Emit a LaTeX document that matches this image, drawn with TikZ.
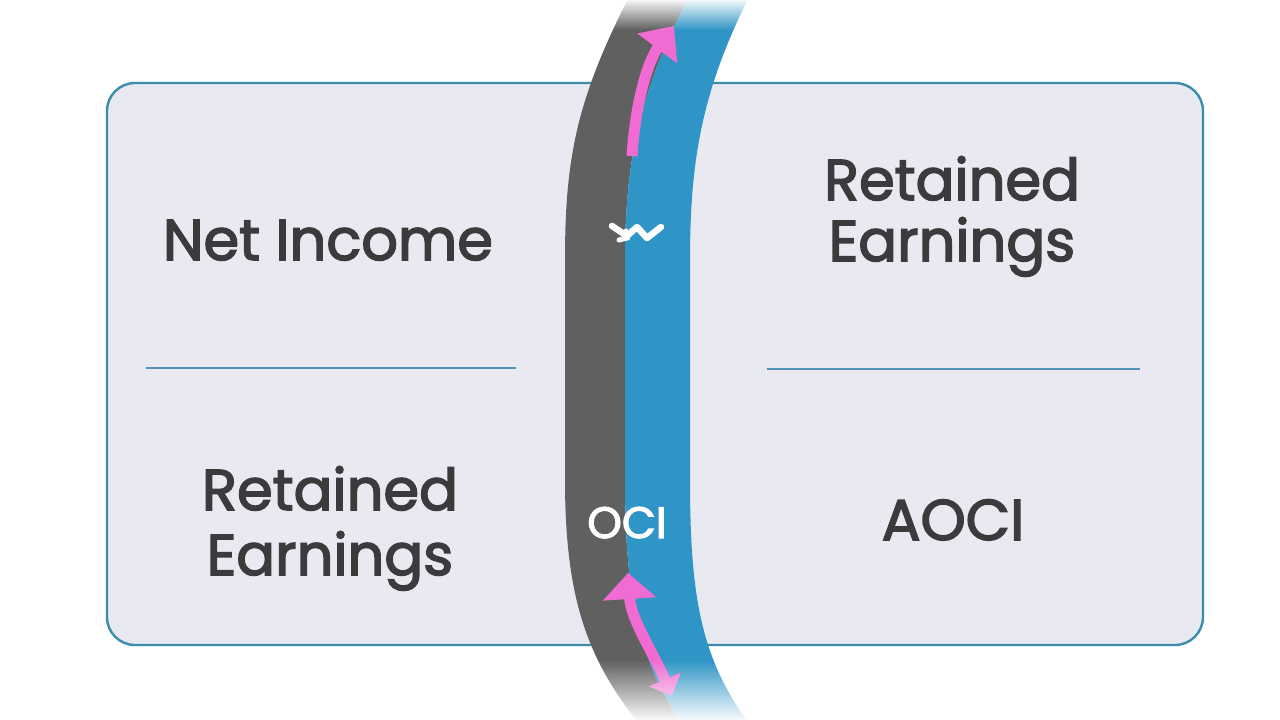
\documentclass[tikz,border=0pt]{standalone}
\usepackage{fontspec}
\setmainfont{Poppins}
\newfontfamily\medfont{Poppins}[FakeBold=2.6]
\usetikzlibrary{arrows.meta,fadings}
\definecolor{boxfill}{HTML}{E9EAF1}
\definecolor{boxline}{HTML}{3C8CAB}
\definecolor{divline}{HTML}{5393B8}
\definecolor{bandgray}{HTML}{606060}
\definecolor{bandblue}{HTML}{2F95C6}
\definecolor{arrowpink}{HTML}{F06CD2}
\definecolor{txt}{HTML}{3A3B3D}
\tikzset{
  lbl/.style={font=\medfont\fontsize{57.5}{62}\selectfont, text=txt, anchor=base, inner sep=0pt},
  ocilbl/.style={font=\medfont\fontsize{44}{48}\selectfont, text=white, anchor=base, inner sep=0pt},
  divider/.style={draw=divline, line width=1.8pt},
  pinkarrow/.style={draw=arrowpink, line width=11pt},
}
\begin{document}
\begin{tikzpicture}[x=1pt,y=-1pt]
\useasboundingbox (0,0) rectangle (1280,720);
\fill[white] (0,0) rectangle (1280,720);
% main box
\draw[fill=boxfill, draw=boxline, line width=2.4pt, rounded corners=28pt] (107,83) rectangle (1203,645);
% dividers
\coordinate (dl1) at (146,368); \coordinate (dl2) at (516,368);
\coordinate (dr1) at (767,369); \coordinate (dr2) at (1140,369);
\draw[divider] (dl1) -- (dl2);
\draw[divider] (dr1) -- (dr2);
% band gray
\fill[bandgray] (630,-5) .. controls (576,100) and (565,160) .. (565,260) -- (565,480)
  .. controls (565,600) and (588,660) .. (640,725)
  -- (682,725) .. controls (640,660) and (625,600) .. (625,480) -- (625,260)
  .. controls (625,160) and (640,90) .. (690,-5) -- cycle;
% band blue
\fill[bandblue] (690,-5) .. controls (640,90) and (625,160) .. (625,260) -- (625,480)
  .. controls (625,600) and (640,660) .. (682,725)
  -- (750,725) .. controls (702,660) and (690,600) .. (690,480) -- (690,260)
  .. controls (690,160) and (702,90) .. (750,-5) -- cycle;
% pink arrows
\coordinate (a1s) at (632,156); \coordinate (a1e) at (674,26);
\draw[pinkarrow, -{Triangle[length=28pt,width=48pt]}] (a1s) .. controls (636,95) and (650,58) .. (a1e);
\coordinate (a2s) at (672,696); \coordinate (a2e) at (628,573);
\draw[pinkarrow, {Triangle[length=18pt,width=34pt]}-{Triangle[length=26pt,width=52pt]}] (a2s) .. controls (652,650) and (631,620) .. (a2e);
% squiggle
\coordinate (s1) at (612,226);
\draw[white, line width=6.5pt, line cap=round, line join=round]
  (s1) -- (627,236) -- (637,227) -- (647,238) -- (661,227);
\draw[white, line width=5pt, line cap=round] (619,240) -- (627,238) -- (626,231);
% fades
\fill[white, path fading=south] (540,-2) rectangle (780,30);
\fill[white, path fading=north] (540,660) rectangle (780,722);
% labels
\node[lbl] (ni) at (328,260) {Net Income};
\node[lbl] (re1) at (952,200) {Retained};
\node[lbl] (re2) at (952,261) {Earnings};
\node[lbl] (lre1) at (330,510) {Retained};
\node[lbl] (lre2) at (330,575) {Earnings};
\node[lbl] (aoci) at (953,540) {AOCI};
\node[ocilbl] (oci) at (627,538) {OCI};
\end{tikzpicture}
\end{document}
